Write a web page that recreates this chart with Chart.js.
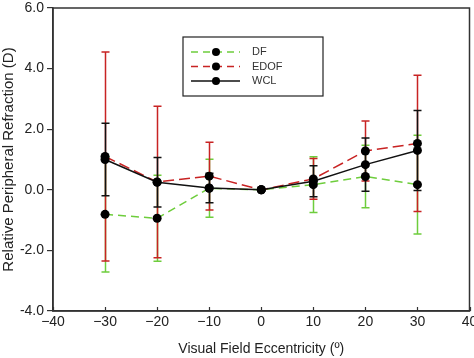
<!DOCTYPE html>
<html lang="en">
  <head>
    <meta charset="UTF-8" />
    <title>Relative Peripheral Refraction</title>
    <script src="https://cdn.jsdelivr.net/npm/chart.js"></script>
    <style>
      html, body { margin: 0; padding: 0; background: #fff; }
      canvas { display: block; }
    </style>
  </head>
  <body>
    <canvas id="myChart" width="474" height="358"></canvas>
  </body>
</html>

<script>
  // eccentricity (deg) and mean +/- SD for each lens
  const eccentricity = [-30, -20, -10, 0, 10, 20, 30];
  const dfMean = [-0.81, -0.94, 0.05, 0, 0.17, 0.44, 0.17];
  const dfSd = [1.9, 1.42, 0.96, 0, 0.92, 1.03, 1.63];
  const edofMean = [1.1, 0.26, 0.45, 0, 0.36, 1.28, 1.53];
  const edofSd = [3.45, 2.5, 1.12, 0, 0.67, 0.99, 2.25];
  const wclMean = [1.0, 0.25, 0.06, 0, 0.28, 0.83, 1.3];
  const wclSd = [1.2, 0.82, 0.49, 0, 0.51, 0.88, 1.32];

  const yTicks = [-4, -2, 0, 2, 4, 6];
  const xTicks = [-40, -30, -20, -10, 0, 10, 20, 30, 40];

  const green = "rgb(110, 205, 60)";
  const red = "rgb(200, 35, 35)";
  const black = "#111";
  const font = "'Liberation Sans', Arial, sans-serif";

  function points(means) {
    return eccentricity.map((x, i) => ({ x: x, y: means[i] }));
  }

  const series = [
    { label: "DF", mean: dfMean, sd: dfSd, color: green, dash: [8, 5], order: 3 },
    { label: "EDOF", mean: edofMean, sd: edofSd, color: red, dash: [11, 5], order: 2 },
    { label: "WCL", mean: wclMean, sd: wclSd, color: black, dash: [], order: 1 },
  ];

  // error bars drawn behind the lines
  const errorBars = {
    id: "errorBars",
    beforeDatasetsDraw(chart) {
      const c = chart.ctx;
      const xs = chart.scales.x;
      const ys = chart.scales.y;
      c.save();
      c.lineWidth = 1.5;
      series.forEach((s) => {
        c.strokeStyle = s.color;
        eccentricity.forEach((x, i) => {
          if (!s.sd[i]) return;
          const px = Math.round(xs.getPixelForValue(x)) + 0.5;
          const top = ys.getPixelForValue(s.mean[i] + s.sd[i]);
          const bot = ys.getPixelForValue(s.mean[i] - s.sd[i]);
          c.beginPath();
          c.moveTo(px, top);
          c.lineTo(px, bot);
          c.moveTo(px - 4, top);
          c.lineTo(px + 4, top);
          c.moveTo(px - 4, bot);
          c.lineTo(px + 4, bot);
          c.stroke();
        });
      });
      c.restore();
    },
  };

  // box around the plot, inward x ticks and the framed legend
  const frameAndLegend = {
    id: "frameAndLegend",
    afterDraw(chart) {
      const c = chart.ctx;
      const a = chart.chartArea;
      const xs = chart.scales.x;
      c.save();
      c.strokeStyle = "#333";
      c.lineWidth = 1.5;
      c.strokeRect(a.left, a.top, a.right - a.left, a.bottom - a.top);

      c.lineWidth = 1.2;
      c.beginPath();
      xTicks.forEach((v) => {
        const px = Math.round(xs.getPixelForValue(v)) + 0.5;
        c.moveTo(px, a.bottom);
        c.lineTo(px, a.bottom - 4);
      });
      c.stroke();

      c.fillStyle = "#fff";
      c.fillRect(183, 37, 140, 59);
      c.lineWidth = 1.2;
      c.strokeStyle = "#222";
      c.strokeRect(183, 37, 140, 59);

      c.font = "11px " + font;
      c.textBaseline = "middle";
      series.forEach((s, i) => {
        const y = 52 + i * 14.5;
        c.strokeStyle = s.color;
        c.lineWidth = 1.5;
        c.setLineDash(s.dash.length ? [7, 5] : []);
        c.beginPath();
        c.moveTo(191, y);
        c.lineTo(240, y);
        c.stroke();
        c.setLineDash([]);
        c.fillStyle = "#000";
        c.beginPath();
        c.arc(216, y, 4, 0, Math.PI * 2);
        c.fill();
        c.fillStyle = "#333";
        c.fillText(s.label, 252, y);
      });
      c.restore();
    },
  };

  const ctx = document.getElementById("myChart");

  const chart = new Chart(ctx, {
    type: "line",
    data: {
      datasets: series.map((s) => ({
        label: s.label,
        data: points(s.mean),
        borderColor: s.color,
        borderWidth: 1.5,
        borderDash: s.dash,
        pointRadius: 4.5,
        pointBackgroundColor: "#000",
        pointBorderColor: "#000",
        pointBorderWidth: 0,
        tension: 0,
        order: s.order,
      })),
    },
    options: {
      responsive: false,
      animation: false,
      layout: { padding: { top: 8, right: 2, left: 0, bottom: 0 } },
      plugins: {
        legend: { display: false },
        tooltip: { enabled: false },
      },
      scales: {
        x: {
          type: "linear",
          min: -40,
          max: 40,
          afterBuildTicks: (scale) => {
            scale.ticks = xTicks.map((v) => ({ value: v }));
          },
          afterFit: (scale) => {
            scale.height = 47;
            scale.paddingRight = 0;
            scale.paddingLeft = 0;
          },
          grid: { drawOnChartArea: false, drawTicks: false },
          border: { color: "#333", width: 1.5 },
          ticks: {
            padding: 3,
            color: "#222",
            font: { family: font, size: 14 },
            callback: (v) => (v < 0 ? "\u2212" + Math.abs(v) : "" + v),
          },
          title: {
            display: true,
            text: "Visual Field Eccentricity (\u00ba)",
            color: "#222",
            font: { family: font, size: 14 },
            padding: { top: 0, bottom: 0 },
          },
        },
        y: {
          min: -4,
          max: 6,
          afterBuildTicks: (scale) => {
            scale.ticks = yTicks.map((v) => ({ value: v }));
          },
          afterFit: (scale) => {
            scale.width = 53;
            scale.paddingTop = 0;
            scale.paddingBottom = 0;
          },
          grid: { drawOnChartArea: false, tickLength: 6, color: "#333", lineWidth: 1.2 },
          border: { color: "#333", width: 1.5 },
          ticks: {
            padding: 3,
            color: "#222",
            font: { family: font, size: 14 },
            callback: (v) => v.toFixed(1),
          },
          title: {
            display: true,
            text: "Relative Peripheral Refraction (D)",
            color: "#222",
            font: { family: font, size: 15 },
            padding: { top: 0, bottom: 0 },
          },
        },
      },
    },
    plugins: [errorBars, frameAndLegend],
  });
</script>
